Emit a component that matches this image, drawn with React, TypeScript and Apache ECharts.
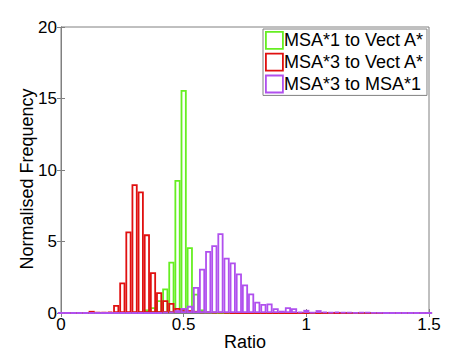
import React, { useEffect, useRef } from "react";
import * as echarts from "echarts";

const seriesNames = ["MSA*1 to Vect A*", "MSA*3 to Vect A*", "MSA*3 to MSA*1"];
const seriesColors = ["#66EE22", "#E01010", "#B050EE"];
const binWidth = 0.025;
const xTicks = [0, 0.5, 1, 1.5];
const yTicks = [0, 5, 10, 15, 20];

// bin index i -> centre i * 0.025 (0 .. 1.5)
const greenValues = [
  0, 0, 0, 0, 0, 0, 0, 0, 0, 0,
  0, 0, 0.05, 0.1, 0.25, 0.4, 0.9, 1.72, 3.58, 9.3,
  15.6, 4.6, 1.35, 0.25, 0.1, 0.05, 0, 0, 0, 0,
  0, 0, 0, 0, 0, 0, 0, 0, 0, 0,
  0, 0, 0, 0, 0, 0, 0, 0, 0, 0,
  0, 0, 0, 0, 0, 0, 0, 0, 0, 0,
  0,
];
const redValues = [
  0, 0, 0, 0, 0, 0.15, 0.05, 0.05, 0.1, 0.56,
  2.14, 5.7, 9.0, 8.5, 5.5, 2.85, 1.45, 0.9, 0.7, 0.35,
  0.28, 0.2, 0.15, 0.1, 0.08, 0.05, 0.04, 0.03, 0, 0,
  0, 0, 0, 0, 0, 0, 0, 0, 0, 0,
  0, 0, 0, 0, 0, 0, 0, 0, 0, 0,
  0, 0, 0, 0, 0, 0, 0, 0, 0, 0,
  0,
];
const purpleValues = [
  0, 0, 0, 0, 0, 0, 0, 0, 0, 0,
  0, 0, 0, 0, 0, 0, 0, 0.05, 0.1, 0.2,
  0.35, 0.5, 1.82, 3.1, 4.34, 4.74, 5.58, 3.86, 3.53, 2.76,
  2.0, 1.37, 0.79, 0.63, 0.66, 0.33, 0.16, 0.4, 0.33, 0.08,
  0.22, 0.05, 0.2, 0.1, 0.05, 0.1, 0.06, 0.06, 0.03, 0.05,
  0.05, 0.02, 0.02, 0, 0, 0, 0, 0, 0, 0,
  0,
];

const binCentres = greenValues.map((_, i) => +(i * binWidth).toFixed(3));

const FONT = "'Liberation Sans', Arial, Helvetica, sans-serif";
const AXIS_GRAY = "#808080";

export default function App() {
  const ref = useRef<HTMLDivElement>(null);
  useEffect(() => {
    if (!ref.current) return;
    const chart = echarts.init(ref.current, undefined, { renderer: "svg" });
    const allValues = [greenValues, redValues, purpleValues];
    const series = allValues.map((vals, k) => ({
      name: seriesNames[k],
      type: "bar",
      xAxisIndex: 0,
      yAxisIndex: 0,
      barWidth: "100%",
      barGap: "-100%",
      data: vals.map((v, i) => [binCentres[i], v]),
      itemStyle: {
        color: "rgba(255,255,255,0)",
        borderColor: seriesColors[k],
        borderWidth: 1.8,
      },
      emphasis: { disabled: true },
    }));
    const tickStyle = { show: true, inside: true, length: 4, lineStyle: { color: AXIS_GRAY } };
    chart.setOption({
      animation: false,
      textStyle: { fontFamily: FONT },
      grid: {
        left: 61,
        right: 45,
        top: 27,
        bottom: 40,
        containLabel: false,
        outerBoundsMode: "none",
        show: true,
        borderColor: AXIS_GRAY,
        borderWidth: 1,
        backgroundColor: "#fff",
      },
      legend: {
        orient: "vertical",
        left: 263,
        top: 29,
        padding: [2, 3, 2, 2],
        itemWidth: 17,
        itemHeight: 17,
        itemGap: 3,
        icon: "rect",
        backgroundColor: "#fff",
        borderColor: AXIS_GRAY,
        borderWidth: 1,
        textStyle: { fontSize: 18, color: "#000", fontFamily: FONT, padding: [0, 0, 0, -4] },
        data: seriesNames.map((n, k) => ({
          name: n,
          itemStyle: { color: "#fff", borderColor: seriesColors[k], borderWidth: 1.8 },
        })),
      },
      xAxis: [
        {
          type: "value",
          min: xTicks[0],
          max: xTicks[xTicks.length - 1],
          interval: 0.5,
          position: "bottom",
          name: "Ratio",
          nameLocation: "middle",
          nameGap: 20,
          nameMoveOverlap: false,
          nameTextStyle: { fontSize: 18, color: "#000", fontFamily: FONT },
          axisLine: { show: true, lineStyle: { color: AXIS_GRAY } },
          axisTick: tickStyle,
          splitLine: { show: false },
          axisLabel: { fontSize: 17, color: "#000", margin: 3, fontFamily: FONT },
        },
        {
          type: "value",
          min: xTicks[0],
          max: xTicks[xTicks.length - 1],
          interval: 0.5,
          position: "top",
          axisLine: { show: true, lineStyle: { color: AXIS_GRAY } },
          axisTick: tickStyle,
          splitLine: { show: false },
          axisLabel: { show: false },
        },
      ],
      yAxis: [
        {
          type: "value",
          min: yTicks[0],
          max: yTicks[yTicks.length - 1],
          interval: 5,
          position: "left",
          name: "Normalised Frequency",
          nameLocation: "middle",
          nameGap: 25,
          nameMoveOverlap: false,
          nameTextStyle: { fontSize: 18, color: "#000", fontFamily: FONT, padding: [0, 18, 0, 0] },
          axisLine: { show: true, lineStyle: { color: AXIS_GRAY } },
          axisTick: tickStyle,
          splitLine: { show: false },
          axisLabel: { fontSize: 17, color: "#000", margin: 4, fontFamily: FONT },
        },
        {
          type: "value",
          min: yTicks[0],
          max: yTicks[yTicks.length - 1],
          interval: 5,
          position: "right",
          axisLine: { show: true, lineStyle: { color: AXIS_GRAY } },
          axisTick: tickStyle,
          splitLine: { show: false },
          axisLabel: { show: false },
        },
      ],
      series,
    });
    return () => chart.dispose();
  }, []);
  return (
    <div
      ref={ref}
      style={{ position: "fixed", left: 0, top: 0, width: 474, height: 353, background: "#fff" }}
    />
  );
}
